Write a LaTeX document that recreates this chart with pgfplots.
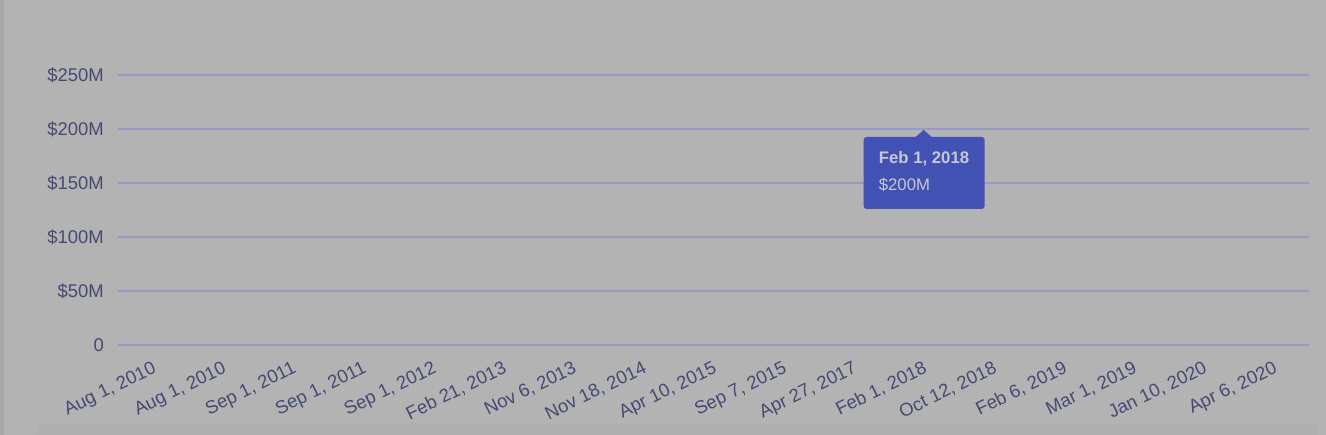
\documentclass[border=0pt]{standalone}
\usepackage{pgfplots}
\pgfplotsset{compat=1.18}
\usepackage{fontspec}
\setmainfont{Liberation Sans}
\definecolor{bgray}{RGB}{179,179,179}
\definecolor{edgegray}{RGB}{166,166,171}
\definecolor{panelgray}{RGB}{175,175,176}
\definecolor{gridc}{RGB}{152,154,196}
\definecolor{tickc}{RGB}{68,74,114}
\definecolor{tipblue}{RGB}{65,82,180}
\definecolor{tiptext}{RGB}{200,200,210}
\begin{document}
\begin{tikzpicture}[x=1bp,y=1bp]
% page background, axis origin sits at pixel (118,345)
\fill[bgray] (-118,-90) rectangle (1208,345);
\fill[edgegray] (-118,-90) rectangle (-114,345);
\fill[panelgray, rounded corners=6bp] (-81,-79) rectangle (1200,-100);
\begin{axis}[
  at={(0,0)}, anchor=south west,
  scale only axis,
  width=1191bp, height=270bp,
  xmin=-0.5, xmax=16.5,
  ymin=0, ymax=250,
  axis line style={draw=none},
  major tick length=0pt,
  ymajorgrids,
  major grid style={draw=gridc, line width=1.4bp},
  ytick={0,50,100,150,200,250},
  yticklabels={0,\$50M,\$100M,\$150M,\$200M,\$250M},
  yticklabel style={font=\fontsize{18.5}{21}\selectfont, text=tickc, inner sep=0pt, xshift=-14bp},
  xtick={0,...,16},
  xticklabels={{Aug 1, 2010},{Aug 1, 2010},{Sep 1, 2011},{Sep 1, 2011},{Sep 1, 2012},{Feb 21, 2013},{Nov 6, 2013},{Nov 18, 2014},{Apr 10, 2015},{Sep 7, 2015},{Apr 27, 2017},{Feb 1, 2018},{Oct 12, 2018},{Feb 6, 2019},{Mar 1, 2019},{Jan 10, 2020},{Apr 6, 2020}},
  xticklabel style={font=\fontsize{18.5}{21}\selectfont, text=tickc, rotate=26, anchor=north east, inner sep=0pt, yshift=-13bp, xshift=-8bp},
  clip=false,
]
% the hovered point (bars are not drawn in the reference)
\addplot[draw=none, mark=none] coordinates {(11,200)} coordinate (tip);
\end{axis}
% tooltip
\fill[tipblue] ([xshift=-8bp,yshift=-8bp]tip) -- ([yshift=-1bp]tip) -- ([xshift=8bp,yshift=-8bp]tip) -- cycle;
\fill[tipblue, rounded corners=3bp] ([xshift=-60bp,yshift=-8bp]tip) rectangle ([xshift=61bp,yshift=-80bp]tip);
\node[anchor=base west, inner sep=0pt, text=tiptext, font=\fontsize{16.8}{19}\selectfont\bfseries] at ([xshift=-45bp,yshift=-35bp]tip) {Feb 1, 2018};
\node[anchor=base west, inner sep=0pt, text=tiptext, font=\fontsize{16.8}{19}\selectfont] at ([xshift=-45bp,yshift=-62bp]tip) {\$200M};
\pgfresetboundingbox
\path (-118,-90) rectangle (1208,345);
\end{tikzpicture}
\end{document}
